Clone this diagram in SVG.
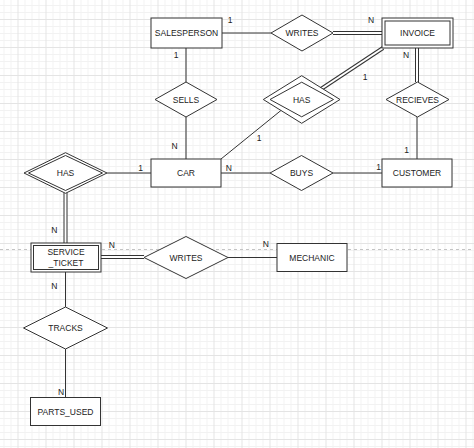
<svg xmlns="http://www.w3.org/2000/svg" width="474" height="448" viewBox="0 0 474 448">
<defs>
<pattern id="grid" patternUnits="userSpaceOnUse" x="17.5" y="19" width="28" height="28">
<path d="M7.5 0V28M14.5 0V28M21.5 0V28M0 7.5H28M0 14.5H28M0 21.5H28" stroke="#f2f2f2" stroke-width="1" fill="none"/>
<path d="M0.5 0V28M0 0.5H28" stroke="#e4e4e4" stroke-width="1" fill="none"/>
</pattern>
</defs>
<style>
.ent{fill:#fff;stroke:#333;stroke-width:1}
.rel{fill:#fff;stroke:#333;stroke-width:1}
.ln{fill:none;stroke:#333;stroke-width:1}
.dbl{fill:none;stroke:#333;stroke-width:4}
.dbli{fill:none;stroke:#fff;stroke-width:2}
text{font-family:"Liberation Sans",Arial,sans-serif;font-size:8.5px;fill:#222}
.c{text-anchor:middle;dominant-baseline:central}
</style>
<rect width="474" height="448" fill="#fff"/>
<rect width="474" height="448" fill="url(#grid)"/>
<line x1="0" y1="249.5" x2="474" y2="249.5" stroke="#c4c4c4" stroke-width="1" stroke-dasharray="3 3"/>

<g id="connectors">
<line class="ln" x1="222" y1="33" x2="271" y2="33"/>
<line class="dbl" x1="333" y1="33" x2="382" y2="33"/><line class="dbli" x1="333" y1="33" x2="382" y2="33"/>
<line class="ln" x1="186" y1="48" x2="186" y2="82"/>
<line class="ln" x1="186" y1="117" x2="186" y2="159"/>
<line class="dbl" x1="383" y1="48" x2="318" y2="91"/><line class="dbli" x1="383" y1="48" x2="318" y2="91"/>
<line class="ln" x1="221" y1="159" x2="284" y2="108"/>
<line class="dbl" x1="417" y1="48" x2="417" y2="82"/><line class="dbli" x1="417" y1="48" x2="417" y2="82"/>
<line class="ln" x1="417" y1="117" x2="417" y2="159"/>
<line class="ln" x1="107" y1="173" x2="151" y2="173"/>
<line class="ln" x1="221" y1="173" x2="270" y2="173"/>
<line class="ln" x1="333" y1="173" x2="382" y2="173"/>
<line class="dbl" x1="65.5" y1="193" x2="65.5" y2="243"/><line class="dbli" x1="65.5" y1="193" x2="65.5" y2="243"/>
<line class="dbl" x1="101" y1="257" x2="144" y2="257"/><line class="dbli" x1="101" y1="257" x2="144" y2="257"/>
<line class="ln" x1="228" y1="257.5" x2="277" y2="257.5"/>
<line class="ln" x1="65.5" y1="272" x2="65.5" y2="307"/>
<line class="ln" x1="65.5" y1="349" x2="65.5" y2="397"/>
</g>

<g id="salesperson"><rect class="ent" x="151" y="18" width="71" height="30"/><text class="c" x="186.5" y="33">SALESPERSON</text></g>
<g id="writes-invoice"><polygon class="rel" points="271,33 302,15 333,33 302,51"/><text class="c" x="302" y="33">WRITES</text></g>
<g id="invoice"><rect class="ent" x="382" y="18" width="71" height="30"/><rect class="ent" x="385" y="21" width="65" height="24"/><text class="c" x="417.5" y="33">INVOICE</text></g>
<g id="sells"><polygon class="rel" points="155,99.5 186,82 217,99.5 186,117"/><text class="c" x="186" y="99.5">SELLS</text></g>
<g id="has-invoice"><polygon class="rel" points="263.3,99.5 301.7,75.7 340,99.5 301.7,123.3"/><polygon class="rel" points="270,99.5 301.7,82.2 333.5,99.5 301.7,116.8"/><text class="c" x="301.7" y="99.5">HAS</text></g>
<g id="recieves"><polygon class="rel" points="386,99.5 417.5,82 449,99.5 417.5,117"/><text class="c" x="417.5" y="99.5">RECIEVES</text></g>
<g id="has-ticket"><polygon class="rel" points="24,173 65.5,152.7 107,173 65.5,193.3"/><polygon class="rel" points="28.5,173 65.5,155.5 102.5,173 65.5,190.5"/><text class="c" x="65.5" y="173">HAS</text></g>
<g id="car"><rect class="ent" x="151" y="159" width="70" height="28"/><text class="c" x="186" y="173">CAR</text></g>
<g id="buys"><polygon class="rel" points="270,173 301.5,155.5 333,173 301.5,190.5"/><text class="c" x="301.5" y="173">BUYS</text></g>
<g id="customer"><rect class="ent" x="382" y="159" width="70" height="28"/><text class="c" x="417" y="173">CUSTOMER</text></g>
<g id="service-ticket"><rect class="ent" x="31" y="243" width="70" height="29"/><rect class="ent" x="33.5" y="245.5" width="65" height="24"/><text class="c" x="66" y="252">SERVICE</text><text class="c" x="66" y="262.5">_TICKET</text></g>
<g id="writes-ticket"><polygon class="rel" points="144,257.5 186,236.5 228,257.5 186,278.5"/><text class="c" x="186" y="257.5">WRITES</text></g>
<g id="mechanic"><rect class="ent" x="277" y="243.5" width="70" height="28"/><text class="c" x="312" y="257.5">MECHANIC</text></g>
<g id="tracks"><polygon class="rel" points="23.5,328 65.5,307 107.5,328 65.5,349"/><text class="c" x="65.5" y="328">TRACKS</text></g>
<g id="parts-used"><rect class="ent" x="30.5" y="397.5" width="70" height="28"/><text class="c" x="65.5" y="411.5">PARTS_USED</text></g>

<g id="cardinalities">
<text class="c" x="230" y="20">1</text>
<text class="c" x="371" y="20">N</text>
<text class="c" x="176" y="55">1</text>
<text class="c" x="406" y="55">N</text>
<text class="c" x="365" y="77">1</text>
<text class="c" x="259" y="138">1</text>
<text class="c" x="174.5" y="146">N</text>
<text class="c" x="406.7" y="150">1</text>
<text class="c" x="140.7" y="168">1</text>
<text class="c" x="228.7" y="168">N</text>
<text class="c" x="378.7" y="167">1</text>
<text class="c" x="54.3" y="230">N</text>
<text class="c" x="111.7" y="244.5">N</text>
<text class="c" x="265.7" y="244">N</text>
<text class="c" x="54.3" y="286">N</text>
<text class="c" x="61" y="392">N</text>
</g>
</svg>
